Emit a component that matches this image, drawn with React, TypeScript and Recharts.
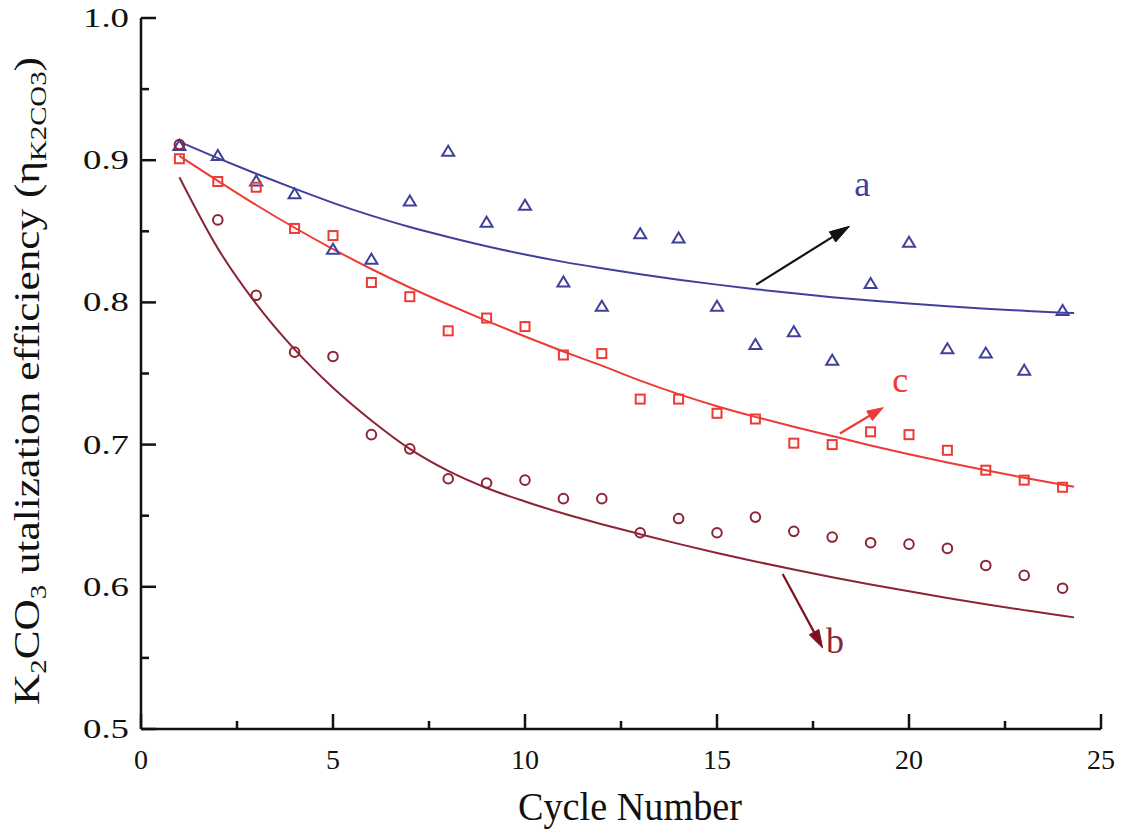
import React from 'react';
import { ComposedChart, XAxis, YAxis, Scatter, Line, ReferenceLine, ReferenceDot } from 'recharts';

const cycles = [1, 2, 3, 4, 5, 6, 7, 8, 9, 10, 11, 12, 13, 14, 15, 16, 17, 18, 19, 20, 21, 22, 23, 24];
const seriesA = [0.910, 0.903, 0.885, 0.876, 0.837, 0.830, 0.871, 0.906, 0.856, 0.868, 0.814, 0.797, 0.848, 0.845, 0.797, 0.770, 0.779, 0.759, 0.813, 0.842, 0.767, 0.764, 0.752, 0.794];
const seriesB = [0.911, 0.858, 0.805, 0.765, 0.762, 0.707, 0.697, 0.676, 0.673, 0.675, 0.662, 0.662, 0.638, 0.648, 0.638, 0.649, 0.639, 0.635, 0.631, 0.630, 0.627, 0.615, 0.608, 0.599];
const seriesC = [0.901, 0.885, 0.881, 0.852, 0.847, 0.814, 0.804, 0.780, 0.789, 0.783, 0.763, 0.764, 0.732, 0.732, 0.722, 0.718, 0.701, 0.700, 0.709, 0.707, 0.696, 0.682, 0.675, 0.670];

const fitX = [1, 2, 3, 4, 5, 6, 7, 8, 9, 10, 11, 12, 13, 14, 15, 16, 17, 18, 19, 20, 21, 22, 23, 24, 24.3];
const fitA = [0.913, 0.9015, 0.8905, 0.880, 0.870, 0.861, 0.853, 0.846, 0.8395, 0.8337, 0.8285, 0.824, 0.8198, 0.816, 0.8125, 0.8093, 0.8064, 0.8037, 0.8013, 0.7992, 0.7973, 0.7956, 0.7941, 0.7928, 0.7925];
const fitB = [0.888, 0.838, 0.799, 0.767, 0.740, 0.717, 0.697, 0.6815, 0.6695, 0.660, 0.6515, 0.644, 0.637, 0.6302, 0.6238, 0.6178, 0.6121, 0.6067, 0.6016, 0.5968, 0.5922, 0.5878, 0.5836, 0.5796, 0.5785];
const fitC = [0.903, 0.8855, 0.8685, 0.8525, 0.8375, 0.8235, 0.8105, 0.7985, 0.787, 0.776, 0.7655, 0.7555, 0.745, 0.7355, 0.727, 0.7195, 0.7125, 0.706, 0.6994, 0.6932, 0.6874, 0.6819, 0.6767, 0.6718, 0.6704];

const xTicks = [0, 2.5, 5, 7.5, 10, 12.5, 15, 17.5, 20, 22.5, 25];
const yTicks = [0.5, 0.55, 0.6, 0.65, 0.7, 0.75, 0.8, 0.85, 0.9, 0.95, 1.0];

const arrowA = [{ x: 16.02, y: 0.8125 }, { x: 18.45, y: 0.8535 }];
const arrowB = [{ x: 16.71, y: 0.609 }, { x: 17.75, y: 0.557 }];
const arrowC = [{ x: 18.2, y: 0.7078 }, { x: 19.33, y: 0.726 }];
const labelA = { x: 18.78, y: 0.8746, text: 'a' };
const labelB = { x: 18.07, y: 0.5534, text: 'b' };
const labelC = { x: 19.77, y: 0.7368, text: 'c' };

const BLUE = '#40409c';
const RED = '#ee3a34';
const DARK = '#8c2436';
const SERIF = '"Liberation Serif", "DejaVu Serif", serif';

const toPts = (xs: number[], ys: number[]) => xs.map((x, i) => ({ x, y: ys[i] }));
const dataA = toPts(cycles, seriesA);
const dataB = toPts(cycles, seriesB);
const dataC = toPts(cycles, seriesC);
const lineA = toPts(fitX, fitA);
const lineB = toPts(fitX, fitB);
const lineC = toPts(fitX, fitC);

const isMajor = (v: number, step: number) => Math.abs(v / step - Math.round(v / step)) < 1e-6;

const XTick = (props: any) => {
  const { x, y, payload } = props;
  const major = isMajor(payload.value, 5);
  const label = String(payload.value);
  return (
    <g>
      <line x1={x} y1={y} x2={x} y2={y - (major ? 15 : 8)} stroke="#111" strokeWidth={2.5} />
      {major && (
        <text x={x} y={y + 40} textAnchor="middle" fontFamily={SERIF} fontSize={28} fill="#111">
          {label}
        </text>
      )}
    </g>
  );
};

const YTick = (props: any) => {
  const { x, y, payload } = props;
  const major = isMajor(payload.value, 0.1);
  const label = payload.value.toFixed(1);
  return (
    <g>
      <line x1={x} y1={y} x2={x + (major ? 15 : 8)} y2={y} stroke="#111" strokeWidth={2.5} />
      {major && (
        <text x={x - 12} y={y + 9} textAnchor="end" fontFamily={SERIF} fontSize={28} fill="#111"
          textLength={46} lengthAdjust="spacingAndGlyphs">
          {label}
        </text>
      )}
    </g>
  );
};

const triangle = (color: string) => (p: any) => {
  const { cx, cy } = p;
  const h = 10;
  const w = 12;
  return (
    <polygon
      points={`${cx},${cy - h / 2 - 1} ${cx - w / 2},${cy + h / 2 - 1} ${cx + w / 2},${cy + h / 2 - 1}`}
      fill="none" stroke={color} strokeWidth={2} />
  );
};
const square = (color: string) => (p: any) => {
  const { cx, cy } = p;
  return <rect x={cx - 4.5} y={cy - 4.5} width={9} height={9} fill="none" stroke={color} strokeWidth={2} />;
};
const circle = (color: string) => (p: any) => {
  const { cx, cy } = p;
  return <circle cx={cx} cy={cy} r={4.8} fill="none" stroke={color} strokeWidth={2} />;
};

const arrow = (color: string, headLen: number, headW: number) => (p: any) => {
  const { x1, y1, x2, y2 } = p;
  const dx = x2 - x1;
  const dy = y2 - y1;
  const len = Math.sqrt(dx * dx + dy * dy) || 1;
  const ux = dx / len;
  const uy = dy / len;
  const bx = x2 - ux * headLen;
  const by = y2 - uy * headLen;
  const px = -uy * headW;
  const py = ux * headW;
  return (
    <g>
      <line x1={x1} y1={y1} x2={bx + ux * 2} y2={by + uy * 2} stroke={color} strokeWidth={2.2} />
      <polygon points={`${x2},${y2} ${bx + px},${by + py} ${bx - px},${by - py}`} fill={color} stroke={color} strokeWidth={1} />
    </g>
  );
};

const textMark = (txt: string, color: string) => (p: any) => (
  <text x={p.cx} y={p.cy} textAnchor="middle" fontFamily={SERIF} fontSize={36} fill={color}>
    {txt}
  </text>
);

const YTitle = () => (
  <text
    transform="translate(39, 381) rotate(-90)"
    textAnchor="middle"
    fontFamily={SERIF}
    fontSize={36}
    fill="#111"
    textLength={648}
    lengthAdjust="spacingAndGlyphs"
  >
    K<tspan fontSize={24} dy={7}>2</tspan>
    <tspan dy={-7}>CO</tspan>
    <tspan fontSize={24} dy={7}>3</tspan>
    <tspan dy={-7}> utalization efficiency (η</tspan>
    <tspan fontSize={24} dy={7}>K2CO3</tspan>
    <tspan dy={-7}>)</tspan>
  </text>
);

export default function App() {
  return (
    <div style={{ width: 1125, height: 839, position: 'relative', background: '#fff', margin: '-8px 0 0 -8px' }}>
      <ComposedChart width={1125} height={839} margin={{ top: 18, right: 24, bottom: 0, left: 0 }}>
        <XAxis
          type="number"
          dataKey="x"
          domain={[0, 25]}
          ticks={xTicks}
          interval={0}
          allowDataOverflow
          height={110}
          tickSize={0}
          tickMargin={0}
          tickLine={false}
          axisLine={{ stroke: '#111', strokeWidth: 2.5 }}
          tick={<XTick />}
          label={{ value: 'Cycle Number', position: 'insideBottom', offset: 0, content: (lp: any) => {
            const vb = lp.viewBox || {};
            return (
              <text x={vb.x + vb.width / 2 + 9} y={820} textAnchor="middle" fontFamily={SERIF} fontSize={40}
                fill="#111" textLength={224} lengthAdjust="spacingAndGlyphs">Cycle Number</text>
            );
          } }}
        />
        <YAxis
          type="number"
          dataKey="y"
          domain={[0.5, 1.0]}
          ticks={yTicks}
          interval={0}
          allowDataOverflow
          width={141}
          tickSize={0}
          tickMargin={0}
          tickLine={false}
          axisLine={{ stroke: '#111', strokeWidth: 2.5 }}
          tick={<YTick />}
          label={{ value: 'y', content: () => <YTitle /> }}
        />
        <Line data={lineA} dataKey="y" type="monotone" stroke={BLUE} strokeWidth={2} dot={false} activeDot={false} isAnimationActive={false} />
        <Line data={lineC} dataKey="y" type="monotone" stroke={RED} strokeWidth={2} dot={false} activeDot={false} isAnimationActive={false} />
        <Line data={lineB} dataKey="y" type="monotone" stroke={DARK} strokeWidth={2} dot={false} activeDot={false} isAnimationActive={false} />
        <Scatter data={dataA} dataKey="y" shape={triangle(BLUE)} isAnimationActive={false} />
        <Scatter data={dataC} dataKey="y" shape={square(RED)} isAnimationActive={false} />
        <Scatter data={dataB} dataKey="y" shape={circle(DARK)} isAnimationActive={false} />
        <ReferenceLine segment={arrowA} shape={arrow('#111', 20, 6)} ifOverflow="visible" />
        <ReferenceLine segment={arrowB} shape={arrow('#7e1022', 18, 5.5)} ifOverflow="visible" />
        <ReferenceLine segment={arrowC} shape={arrow(RED, 16, 5.5)} ifOverflow="visible" />
        <ReferenceDot x={labelA.x} y={labelA.y} r={0} shape={textMark(labelA.text, BLUE)} ifOverflow="visible" />
        <ReferenceDot x={labelB.x} y={labelB.y} r={0} shape={textMark(labelB.text, DARK)} ifOverflow="visible" />
        <ReferenceDot x={labelC.x} y={labelC.y} r={0} shape={textMark(labelC.text, RED)} ifOverflow="visible" />
      </ComposedChart>
    </div>
  );
}
